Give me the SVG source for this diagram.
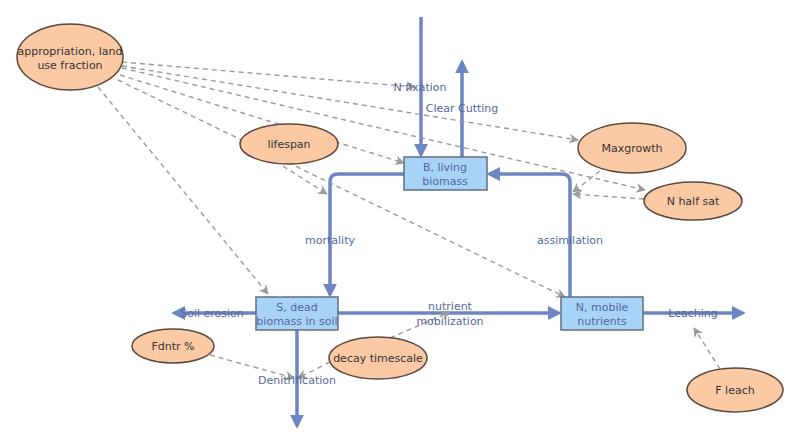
<svg xmlns="http://www.w3.org/2000/svg" width="800" height="446" viewBox="0 0 800 446">
<style>
.aux{fill:#fbc9a4;stroke:#5a4a40;stroke-width:1.5}
.stock{fill:#a7d3f7;stroke:#5f6f80;stroke-width:1.5}
.flow{fill:none;stroke:#6d86c2;stroke-width:3.5}
.dash{fill:none;stroke:#9a9a9a;stroke-width:1.4;stroke-dasharray:5,4}
text{font-family:"DejaVu Sans","Liberation Sans",sans-serif;font-size:11px;text-anchor:middle}
.dk{fill:#333}
.fl{fill:#5467a0}
</style>
<defs>
<marker id="fa" viewBox="0 0 10 10" refX="8" refY="5" markerWidth="4" markerHeight="4" orient="auto"><path d="M0,0L10,5L0,10z" fill="#6d86c2"/></marker>
<marker id="da" viewBox="0 0 10 10" refX="9" refY="5" markerWidth="7" markerHeight="7" orient="auto"><path d="M0,0L10,5L0,10L3,5z" fill="#9a9a9a"/></marker>
</defs>
<g id="connectors">
<path class="flow" d="M421,17V155" marker-end="url(#fa)"/>
<path class="flow" d="M462,157V62" marker-end="url(#fa)"/>
<path class="flow" d="M404,174H338Q330,174 330,182V295" marker-end="url(#fa)"/>
<path class="flow" d="M570,297V182Q570,174 562,174H489" marker-end="url(#fa)"/>
<path class="flow" d="M338,313H559" marker-end="url(#fa)"/>
<path class="flow" d="M256,313H174" marker-end="url(#fa)"/>
<path class="flow" d="M297,330V426" marker-end="url(#fa)"/>
<path class="flow" d="M643,313H743" marker-end="url(#fa)"/>
<path class="dash" d="M122,62L415,87" marker-end="url(#da)"/>
<path class="dash" d="M122,66L578,140" marker-end="url(#da)"/>
<path class="dash" d="M122,68L645,190" marker-end="url(#da)"/>
<path class="dash" d="M120,75L404,163" marker-end="url(#da)"/>
<path class="dash" d="M118,80L565,297" marker-end="url(#da)"/>
<path class="dash" d="M98,87L268,294" marker-end="url(#da)"/>
<path class="dash" d="M245,142L327,194" marker-end="url(#da)"/>
<path class="dash" d="M600,171L573,192" marker-end="url(#da)"/>
<path class="dash" d="M644,199L573,194" marker-end="url(#da)"/>
<path class="dash" d="M210,355L294,378" marker-end="url(#da)"/>
<path class="dash" d="M330,362L298,378" marker-end="url(#da)"/>
<path class="dash" d="M390,338L450,312" marker-end="url(#da)"/>
<path class="dash" d="M720,369L694,328" marker-end="url(#da)"/>
<text class="fl" x="420" y="91">N fixation</text>
<text class="fl" x="462" y="112">Clear Cutting</text>
<text class="fl" x="330" y="244">mortality</text>
<text class="fl" x="570" y="244">assimilation</text>
<text class="fl" x="450" y="310">nutrient</text>
<text class="fl" x="450" y="325">mobilization</text>
<text class="fl" x="212" y="317">Soil erosion</text>
<text class="fl" x="297" y="384">Denitrification</text>
<text class="fl" x="693" y="317">Leaching</text>
</g>
<g id="approp"><ellipse class="aux" cx="70" cy="57" rx="53" ry="33"/><text class="dk" x="70" y="55">appropriation, land</text><text class="dk" x="70" y="69">use fraction</text></g>
<g id="lifespan"><ellipse class="aux" cx="289" cy="144" rx="49" ry="20"/><text class="dk" x="289" y="148">lifespan</text></g>
<g id="maxgrowth"><ellipse class="aux" cx="632" cy="148" rx="54" ry="25"/><text class="dk" x="632" y="152">Maxgrowth</text></g>
<g id="nhalfsat"><ellipse class="aux" cx="693" cy="201" rx="49" ry="19"/><text class="dk" x="693" y="205">N half sat</text></g>
<g id="fdntr"><ellipse class="aux" cx="173" cy="346" rx="41" ry="17"/><text class="dk" x="173" y="350">Fdntr %</text></g>
<g id="decay"><ellipse class="aux" cx="378" cy="358" rx="49" ry="21"/><text class="dk" x="378" y="362">decay timescale</text></g>
<g id="fleach"><ellipse class="aux" cx="735" cy="390" rx="48" ry="22"/><text class="dk" x="735" y="394">F leach</text></g>
<g id="B"><rect class="stock" x="404" y="157" width="83" height="33"/><text class="fl" x="445" y="171">B, living</text><text class="fl" x="445" y="185">biomass</text></g>
<g id="S"><rect class="stock" x="256" y="297" width="82" height="33"/><text class="fl" x="297" y="311">S, dead</text><text class="fl" x="297" y="325">biomass in soil</text></g>
<g id="N"><rect class="stock" x="561" y="297" width="82" height="33"/><text class="fl" x="602" y="311">N, mobile</text><text class="fl" x="602" y="325">nutrients</text></g>
</svg>
